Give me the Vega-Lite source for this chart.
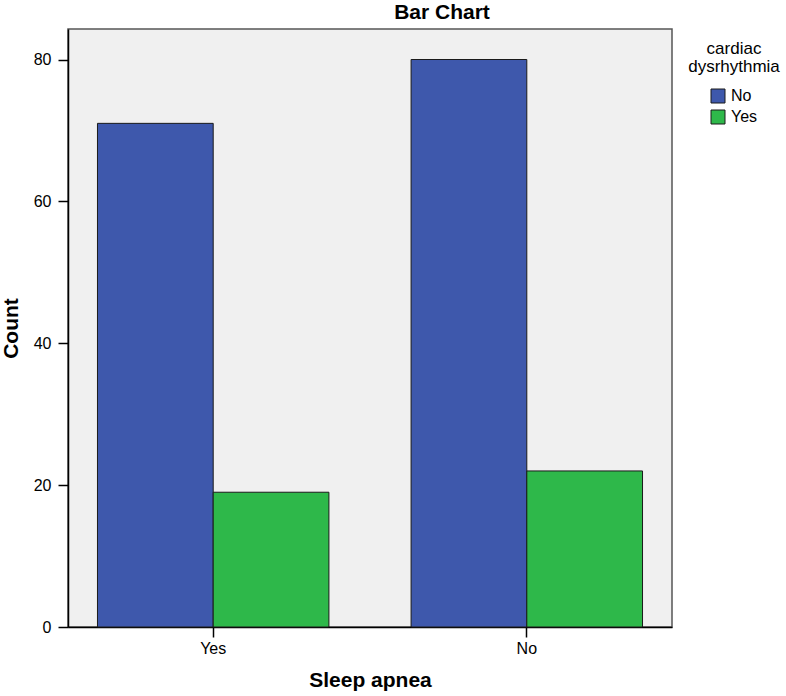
{
  "$schema": "https://vega.github.io/schema/vega-lite/v6.json",
  "autosize": {"type": "none"},
  "padding": {"left": 68, "top": 29, "right": 114, "bottom": 69},
  "width": 604,
  "height": 598,
  "background": "white",
  "title": {"text": "Bar Chart", "font": "Liberation Sans", "fontSize": 21, "fontWeight": "bold", "color": "black", "anchor": "middle", "frame": "group", "dx": 72, "offset": 6},
  "config": {
    "view": {"fill": "#f0f0f0", "stroke": "#555555", "strokeWidth": 1.5},
    "font": "Liberation Sans"
  },
  "data": {"values": [
    {"apnea": "Yes", "dys": "No", "count": 71},
    {"apnea": "Yes", "dys": "Yes", "count": 19},
    {"apnea": "No", "dys": "No", "count": 80},
    {"apnea": "No", "dys": "Yes", "count": 22}
  ]},
  "mark": {"type": "bar", "stroke": "#1a1a1a", "strokeWidth": 1},
  "encoding": {
    "x": {"field": "apnea", "type": "nominal", "sort": ["Yes", "No"],
      "scale": {"paddingInner": 0.262, "paddingOuter": 0.094},
      "axis": {"title": "Sleep apnea", "titleFont": "Liberation Sans", "titleFontSize": 21, "titleFontWeight": "bold", "titleColor": "black", "titlePadding": 13,
        "labelAngle": 0, "labelFontSize": 16, "labelColor": "black", "labelPadding": 3,
        "tickSize": 10, "tickColor": "black", "domainColor": "black", "domainWidth": 1.5, "tickWidth": 1.5, "grid": false}},
    "xOffset": {"field": "dys", "type": "nominal", "sort": ["No", "Yes"], "scale": {"paddingInner": 0, "paddingOuter": 0}},
    "y": {"field": "count", "type": "quantitative",
      "scale": {"domain": [0, 84.3], "nice": false, "zero": true},
      "axis": {"title": "Count", "titleFontSize": 21, "titleFontWeight": "bold", "titleColor": "black", "titlePadding": 12,
        "values": [0, 20, 40, 60, 80], "labelFontSize": 16, "labelColor": "black", "labelPadding": 7,
        "tickSize": 10, "tickColor": "black", "domainColor": "black", "domainWidth": 1.5, "tickWidth": 1.5, "grid": false}},
    "color": {"field": "dys", "type": "nominal", "sort": ["No", "Yes"],
      "scale": {"domain": ["No", "Yes"], "range": ["#3e58ac", "#2eb84a"]},
      "legend": {"title": ["cardiac", "dysrhythmia"], "orient": "none", "legendX": 620, "legendY": 12,
        "titleFontSize": 17, "titleFontWeight": "normal", "titleColor": "black", "titleAlign": "center", "titleAnchor": "middle", "titleLineHeight": 18,
        "labelFontSize": 16, "labelColor": "black", "symbolType": "square", "symbolSize": 196, "symbolStrokeColor": "#1a1a1a", "symbolStrokeWidth": 1,
        "rowPadding": 3, "labelOffset": 5, "titlePadding": 12}}
  }
}
